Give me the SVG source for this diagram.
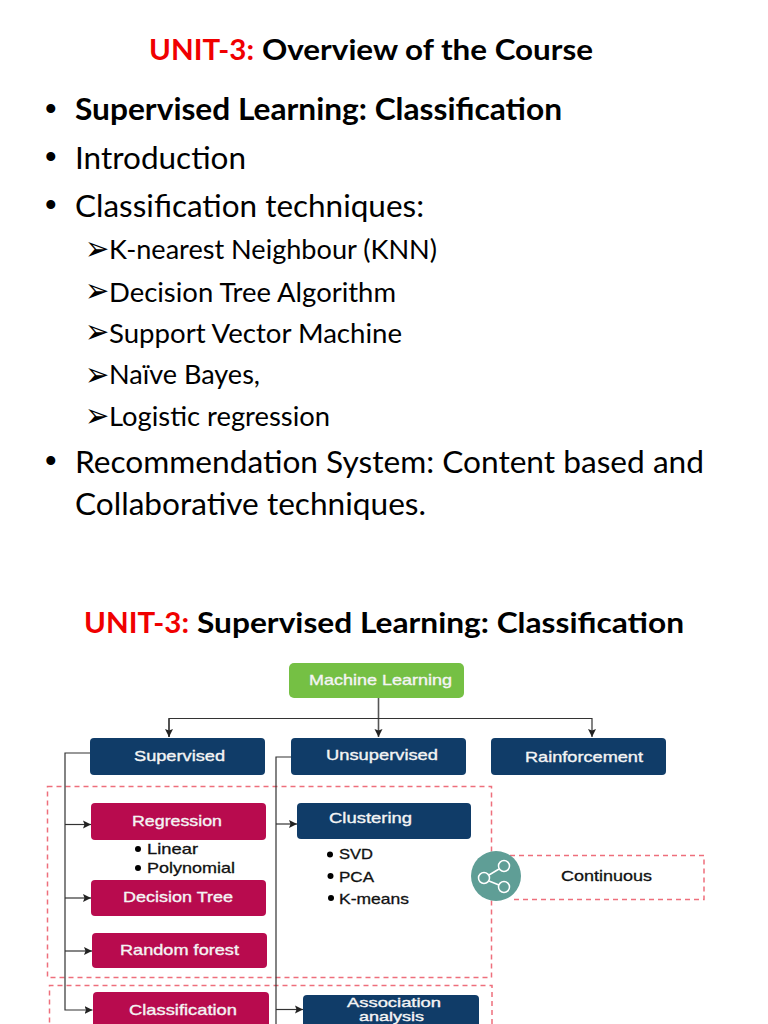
<svg xmlns="http://www.w3.org/2000/svg" width="768" height="1024" viewBox="0 0 768 1024">
<style>
.t{font-family:Lato,"Open Sans",sans-serif;fill:#000}
.h{font-size:29px;font-weight:700}
.l{font-size:30px}
.s{font-size:26.5px}
.b{font-weight:700}
.r{fill:#f00000}
.bu{font-family:"Liberation Sans",sans-serif;font-size:33px;fill:#000}
.ar{font-family:"DejaVu Sans",sans-serif;font-size:20px;fill:#000}
.n{font-family:"Liberation Sans",Arial,sans-serif;font-size:15px;fill:#f4f4f4;stroke:#f4f4f4;stroke-width:.35}
.n2{font-size:13px}
.k{font-family:"Liberation Sans",Arial,sans-serif;font-size:15px;fill:#111;stroke:#111;stroke-width:.3}
.navy{fill:#103c68}.red{fill:#b80b4e}
.c{fill:none;stroke:#333;stroke-width:1.2}
.d{fill:none;stroke:#ee6f7c;stroke-width:1.5;stroke-dasharray:5 4}
</style>
<defs>
<marker id="a" markerUnits="userSpaceOnUse" markerWidth="9" markerHeight="9" refX="8" refY="4.500" orient="auto"><path d="M0 0.500L8 4.500L0 8.500L1.500 4.500Z" fill="#222"/></marker>
</defs>
<g id="slide-1">
<text class="t h" y="60"><tspan class="r" x="149" textLength="105" lengthAdjust="spacingAndGlyphs">UNIT-3:</tspan><tspan x="262" textLength="331" lengthAdjust="spacingAndGlyphs">Overview of the Course</tspan></text>
<text class="bu" x="45" y="120">•</text>
<text class="bu" x="45" y="168">•</text>
<text class="bu" x="45" y="216">•</text>
<text class="bu" x="45" y="472">•</text>
<text class="t l b" x="75" y="120" textLength="487" lengthAdjust="spacingAndGlyphs">Supervised Learning: Classification</text>
<text class="t l" x="75" y="169" textLength="171" lengthAdjust="spacingAndGlyphs">Introduction</text>
<text class="t l" x="75" y="217" textLength="349" lengthAdjust="spacingAndGlyphs">Classification techniques:</text>
<text class="ar" transform="translate(85 260) scale(1.45 1.7)">➢</text>
<text class="ar" transform="translate(85 302) scale(1.45 1.7)">➢</text>
<text class="ar" transform="translate(85 343) scale(1.45 1.7)">➢</text>
<text class="ar" transform="translate(85 386) scale(1.45 1.7)">➢</text>
<text class="ar" transform="translate(85 427) scale(1.45 1.7)">➢</text>
<text class="t s" x="109" y="259" textLength="328" lengthAdjust="spacingAndGlyphs">K-nearest Neighbour (KNN)</text>
<text class="t s" x="109" y="301.500" textLength="287" lengthAdjust="spacingAndGlyphs">Decision Tree Algorithm</text>
<text class="t s" x="109" y="343" textLength="293" lengthAdjust="spacingAndGlyphs">Support Vector Machine</text>
<text class="t s" x="109" y="384" textLength="151" lengthAdjust="spacingAndGlyphs">Naïve Bayes,</text>
<text class="t s" x="109" y="426" textLength="221" lengthAdjust="spacingAndGlyphs">Logistic regression</text>
<text class="t l" x="75" y="473" textLength="629" lengthAdjust="spacingAndGlyphs">Recommendation System: Content based and</text>
<text class="t l" x="75" y="515" textLength="351" lengthAdjust="spacingAndGlyphs">Collaborative techniques.</text>
<text class="t h" y="633"><tspan class="r" x="84" textLength="105" lengthAdjust="spacingAndGlyphs">UNIT-3:</tspan><tspan x="197" textLength="487" lengthAdjust="spacingAndGlyphs">Supervised Learning: Classification</tspan></text>
</g>
<g id="groups">
<rect class="d" x="47.500" y="786.500" width="444" height="191"/>
<path class="d" d="M492 1024V985.500H49.500V1024"/>
<path class="d" d="M510 855.500H704V899.500H510"/>
</g>
<g id="connectors">
<path class="c" d="M378.500 698V737" marker-end="url(#a)" style="stroke-width:1.600;stroke:#555"/>
<path class="c" d="M169 737V718.500H592V737" marker-end="url(#a)"/>
<path class="c" d="M169 718.500V737" marker-end="url(#a)"/>
<path class="c" d="M90 753H65V1010H92.500" marker-end="url(#a)"/>
<path class="c" d="M65 824.500H91" marker-end="url(#a)"/>
<path class="c" d="M65 898H91" marker-end="url(#a)"/>
<path class="c" d="M65 951H92" marker-end="url(#a)"/>
<path class="c" d="M291 757H276V1024"/>
<path class="c" d="M276 824H297" marker-end="url(#a)"/>
<path class="c" d="M276 1009.500H303" marker-end="url(#a)"/>
</g>
<g id="machine-learning"><rect x="289" y="663" width="175" height="35" rx="5" fill="#75c044"/><text class="n" x="309" y="685" textLength="143" lengthAdjust="spacingAndGlyphs">Machine Learning</text></g>
<g id="supervised"><rect class="navy" x="90" y="738" width="175" height="37" rx="4"/><text class="n" x="134" y="761" textLength="91" lengthAdjust="spacingAndGlyphs">Supervised</text></g>
<g id="unsupervised"><rect class="navy" x="291" y="738" width="175" height="37" rx="4"/><text class="n" x="326" y="760" textLength="112" lengthAdjust="spacingAndGlyphs">Unsupervised</text></g>
<g id="rainforcement"><rect class="navy" x="491" y="738" width="175" height="37" rx="4"/><text class="n" x="525" y="762" textLength="118" lengthAdjust="spacingAndGlyphs">Rainforcement</text></g>
<g id="regression"><rect class="red" x="91" y="803" width="175" height="37" rx="4"/><text class="n" x="132" y="826" textLength="90" lengthAdjust="spacingAndGlyphs">Regression</text></g>
<g id="regression-list">
<circle cx="138" cy="849" r="3"/><text class="k" x="147" y="854" textLength="51" lengthAdjust="spacingAndGlyphs">Linear</text>
<circle cx="138" cy="868" r="3"/><text class="k" x="147" y="873" textLength="88" lengthAdjust="spacingAndGlyphs">Polynomial</text>
</g>
<g id="decision-tree"><rect class="red" x="91" y="880" width="175" height="36" rx="4"/><text class="n" x="123" y="902" textLength="110" lengthAdjust="spacingAndGlyphs">Decision Tree</text></g>
<g id="random-forest"><rect class="red" x="92" y="933" width="175" height="35" rx="4"/><text class="n" x="120" y="955" textLength="119" lengthAdjust="spacingAndGlyphs">Random forest</text></g>
<g id="classification"><rect class="red" x="93" y="992" width="176" height="40" rx="4"/><text class="n" x="129" y="1015" textLength="108" lengthAdjust="spacingAndGlyphs">Classification</text></g>
<g id="clustering"><rect class="navy" x="297" y="803" width="174" height="36" rx="4"/><text class="n" x="329" y="823" textLength="83" lengthAdjust="spacingAndGlyphs">Clustering</text></g>
<g id="clustering-list">
<circle cx="330" cy="854.500" r="3"/><text class="k" x="339" y="859" textLength="34" lengthAdjust="spacingAndGlyphs">SVD</text>
<circle cx="330.500" cy="876" r="3"/><text class="k" x="339" y="882" textLength="35" lengthAdjust="spacingAndGlyphs">PCA</text>
<circle cx="331" cy="898" r="3"/><text class="k" x="339" y="904" textLength="70" lengthAdjust="spacingAndGlyphs">K-means</text>
</g>
<g id="association"><rect class="navy" x="303" y="995" width="176" height="40" rx="4"/><text class="n n2" x="347" y="1007" textLength="94" lengthAdjust="spacingAndGlyphs">Association</text><text class="n n2" x="359" y="1021" textLength="65" lengthAdjust="spacingAndGlyphs">analysis</text></g>
<g id="continuous">
<circle cx="496" cy="876" r="25" fill="#5f9e96"/>
<g fill="none" stroke="#fff" stroke-width="1.500"><path d="M489 875L499 869M489 881L499 885"/><circle cx="484" cy="878" r="5.500"/><circle cx="504" cy="866" r="5.500"/><circle cx="504" cy="887" r="5.500"/></g>
<text class="k" x="561" y="881" textLength="91" lengthAdjust="spacingAndGlyphs">Continuous</text>
</g>
</svg>
